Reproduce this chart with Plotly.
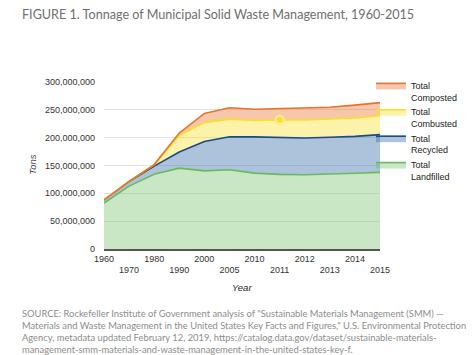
import plotly.graph_objects as go

years = ["1960", "1970", "1980", "1990", "2000", "2005", "2010", "2011", "2012", "2013", "2014", "2015"]
landfilled = [82510000, 113000000, 134370000, 145270000, 140260000, 142290000, 136240000, 134000000, 133500000, 134300000, 136000000, 137700000]
recycled = [5610000, 8020000, 14520000, 29040000, 53010000, 59270000, 65260000, 66500000, 66000000, 66500000, 66400000, 67800000]
combusted = [0, 400000, 2750000, 29760000, 33730000, 31660000, 29380000, 31500000, 32200000, 32700000, 33100000, 34000000]
composted = [0, 0, 0, 4200000, 16450000, 20550000, 20170000, 20700000, 21300000, 21200000, 23000000, 23400000]
y_ticks = [0, 50000000, 100000000, 150000000, 200000000, 250000000, 300000000]
hover_index = 7

series = [
    ("Total<br>Landfilled", landfilled, "rgb(106,185,94)", "rgba(106,185,94,0.36)"),
    ("Total<br>Recycled", recycled, "rgb(30,75,125)", "rgba(60,110,170,0.42)"),
    ("Total<br>Combusted", combusted, "rgb(250,222,40)", "rgba(250,222,40,0.40)"),
    ("Total<br>Composted", composted, "rgb(232,115,45)", "rgba(232,115,45,0.40)"),
]

# page body has an 8px margin, so the figure is drawn 8px smaller and offset
W, H = 466, 347
L, R, T, B = 96, 94, 74, 105.5
PW, PH = W - L - R, H - T - B


def px(x):
    return (x - L) / PW


def py(y):
    return (H - B - y) / PH


fig = go.Figure()
for name, vals, line_c, fill_c in series:
    fig.add_trace(go.Scatter(
        x=years, y=vals, name=name, mode="lines", stackgroup="one",
        line=dict(color=line_c, width=1.6), fillcolor=fill_c,
    ))

hover_y = landfilled[hover_index] + recycled[hover_index] + combusted[hover_index]
fig.add_trace(go.Scatter(
    x=[years[hover_index]], y=[hover_y], mode="markers", showlegend=False,
    marker=dict(size=8, color="rgb(250,222,40)", line=dict(color="rgba(250,235,140,0.9)", width=2.5)),
))

ticktext = [y if i % 2 == 0 else "<br>" + y for i, y in enumerate(years)]

fig.update_layout(
    width=W, height=H,
    margin=dict(l=L, r=R, t=T, b=B, autoexpand=False),
    paper_bgcolor="white", plot_bgcolor="white",
    font=dict(family="Liberation Sans, Arial", size=9, color="#333"),
    showlegend=True,
    legend=dict(
        traceorder="reversed", x=px(363), xanchor="left", y=py(65), yanchor="top",
        font=dict(size=9, color="#222"), valign="top", itemwidth=30,
        tracegroupgap=0, bgcolor="rgba(0,0,0,0)",
    ),
    xaxis=dict(
        type="category", categoryorder="array", categoryarray=years,
        tickvals=years, ticktext=ticktext, range=[0, 11], automargin=False,
        showgrid=False, showline=True, linecolor="#555", linewidth=1.5,
        ticks="", tickfont=dict(size=9, color="#333"), fixedrange=True,
    ),
    yaxis=dict(
        range=[0, 300000000], tickvals=y_ticks, tickformat=",d", automargin=False,
        showgrid=True, gridcolor="#e3e3e3", gridwidth=1, zeroline=False,
        ticks="", ticklabelstandoff=8, tickfont=dict(size=9, color="#333"),
    ),
    annotations=[
        dict(text="FIGURE 1. Tonnage of Municipal Solid Waste Management, 1960-2015",
             xref="paper", yref="paper", x=px(12), y=py(6.5),
             xanchor="left", yanchor="middle", showarrow=False,
             font=dict(family="Lato", size=12.6, color="#6e6e6e")),
        dict(text="<i>Tons</i>", xref="paper", yref="paper", x=px(25), y=py(157),
             textangle=-90, showarrow=False, xanchor="center", yanchor="middle",
             font=dict(size=9.5, color="#444")),
        dict(text="<i>Year</i>", xref="paper", yref="paper", x=0.5, y=py(280),
             showarrow=False, xanchor="center", yanchor="middle",
             font=dict(size=9.5, color="#222")),
        dict(text=("SOURCE: Rockefeller Institute of Government analysis of \"Sustainable Materials Management (SMM) —<br>"
                   "Materials and Waste Management in the United States Key Facts and Figures,\" U.S. Environmental Protection<br>"
                   "Agency, metadata updated February 12, 2019, https://catalog.data.gov/dataset/sustainable-materials-<br>"
                   "management-smm-materials-and-waste-management-in-the-united-states-key-f."),
             xref="paper", yref="paper", x=px(12), y=py(299),
             xanchor="left", yanchor="top", align="left", showarrow=False,
             font=dict(family="Lato", size=9.35, color="#8c8c8c")),
    ],
)

fig.write_html("out.html")
